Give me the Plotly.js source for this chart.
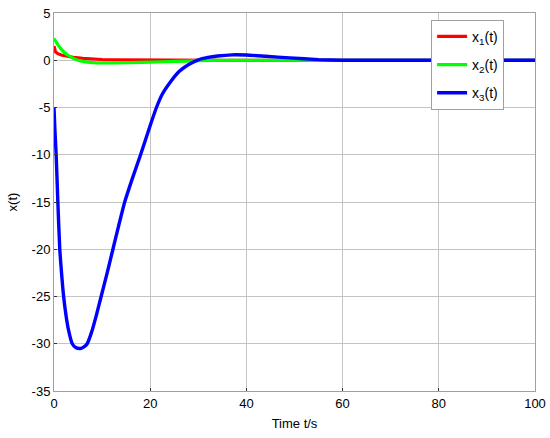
<!DOCTYPE html>
<html>
<head>
<meta charset="utf-8">
<script src="https://cdn.plot.ly/plotly-3.0.1.min.js"></script>
<style>html,body{margin:0;padding:0;background:#fff;}#chart{width:550px;height:438px;}</style>
</head>
<body>
<div id="chart"></div>
<script>
// x1(t)
var t1 = [0, 0.3, 0.8, 1.5, 2.5, 4, 6, 8, 10, 14, 18, 22, 28, 35, 45, 55, 100];
var x1 = [1.5, 0.9, 0.7, 0.55, 0.45, 0.3, 0.2, 0.12, 0.08, 0.05, 0.03, 0.02, 0.01, 0, 0, 0, 0];
// x2(t)
var t2 = [0, 0.5, 1, 2, 3, 4, 5, 6, 7, 8, 10, 13, 16, 20, 25, 30, 35, 45, 55, 100];
var x2 = [2.3, 1.9, 1.5, 0.9, 0.5, 0.2, 0.0, -0.12, -0.2, -0.25, -0.28, -0.28, -0.25, -0.2, -0.12, -0.05, 0, 0, 0, 0];
// x3(t)
var t3 = [0, 0.2, 0.45, 0.8, 1.2, 1.6, 2.0, 2.5, 3.0, 3.8, 4.5, 5.5, 6.3, 6.9, 7.8, 8.8, 9.8, 11.0, 12.25, 13.4, 14.7, 16.3, 18.0, 20.0, 21.3, 22.5, 24.2, 26, 28, 30, 32, 34, 37, 40, 44, 49, 55, 60, 70, 80, 90, 100];
var x3 = [-5, -7.5, -10, -15, -20, -22.7, -25, -27, -28.5, -30, -30.4, -30.5, -30.3, -30, -28.8, -27.0, -25, -22.6, -20, -17.6, -15, -12.5, -10, -6.9, -5, -3.6, -2.3, -1.2, -0.45, 0.05, 0.3, 0.45, 0.57, 0.55, 0.42, 0.25, 0.07, 0, 0, 0, 0, 0];

var xTickVals = [0, 20, 40, 60, 80, 100];
var xTickText = ["0", "20", "40", "60", "80", "100"];
var yTickVals = [5, 0, -5, -10, -15, -20, -25, -30, -35];
var yTickText = ["5", "0", "-5", "-10", "-15", "-20", "-25", "-30", "-35"];
var names = ["x<sub>1</sub>(t)", "x<sub>2</sub>(t)", "x<sub>3</sub>(t)"];
var colors = ["#ff0000", "#00ff00", "#0000ff"];

var traces = [
  {x: t1, y: x1, name: names[0], legendgroup: "a", mode: "lines", line: {color: colors[0], width: 3.2}},
  {x: t2, y: x2, name: names[1], legendgroup: "b", mode: "lines", line: {color: colors[1], width: 3.2, shape: "spline", smoothing: 0.5}},
  {x: t3, y: x3, name: names[2], legendgroup: "c", mode: "lines", line: {color: colors[2], width: 3.4, shape: "spline", smoothing: 0.5}}
];

var axisCommon = {
  showline: true, mirror: true, linecolor: "#a0a0a0", linewidth: 1,
  showgrid: true, gridcolor: "#c4c4c4", gridwidth: 1,
  zeroline: false, ticks: "inside", ticklen: 3, tickcolor: "#333",
  tickfont: {family: "Liberation Sans, Arial, sans-serif", size: 13, color: "#000"}
};

var layout = {
  width: 550, height: 438,
  margin: {l: 54, r: 15, t: 13, b: 47},
  paper_bgcolor: "#fff", plot_bgcolor: "#fff",
  font: {family: "Liberation Sans, Arial, sans-serif", size: 13, color: "#000"},
  xaxis: Object.assign({}, axisCommon, {
    range: [0, 100], tickvals: xTickVals, ticktext: xTickText,
    title: {text: "Time t/s", standoff: 9, font: {size: 13}}
  }),
  yaxis: Object.assign({}, axisCommon, {
    range: [-35, 5], tickvals: yTickVals, ticktext: yTickText,
    title: {text: "x(t)", standoff: 11, font: {size: 13}}
  }),
  showlegend: true,
  legend: {
    x: 0.784, y: 0.982, xanchor: "left", yanchor: "top",
    bgcolor: "#fff", bordercolor: "#a0a0a0", borderwidth: 1,
    font: {family: "Liberation Sans, Arial, sans-serif", size: 14, color: "#000"},
    tracegroupgap: 7
  }
};

Plotly.newPlot("chart", traces, layout, {displayModeBar: false, staticPlot: true});
</script>
</body>
</html>
